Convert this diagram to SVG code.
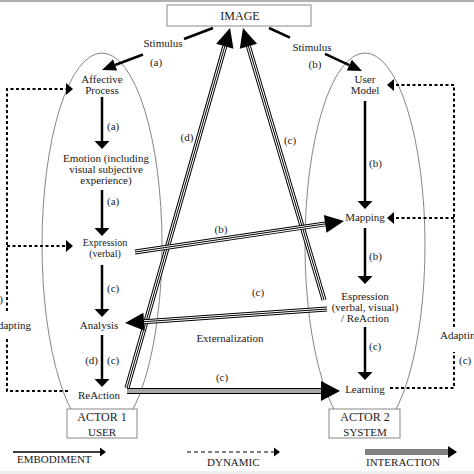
<svg xmlns="http://www.w3.org/2000/svg" width="474" height="474" viewBox="0 0 474 474">
<style>
text{font-family:"Liberation Serif","Times New Roman",serif;fill:#1a1a1a;font-size:11px}
.c{text-anchor:middle}
.e{text-anchor:end}
.box{fill:#fff;stroke:#888;stroke-width:1}
.ell{fill:none;stroke:#777;stroke-width:0.9}
.emb{stroke:#000;stroke-width:2.5;fill:none}
.dot{stroke:#000;stroke-width:2;stroke-dasharray:3 2.5;fill:none}
.ixo{stroke:#000;stroke-width:5;fill:none}
.ixi{stroke:#fff;stroke-width:3;fill:none}
.ixc{stroke:#000;stroke-width:1;fill:none}
.gxo{stroke:#000;stroke-width:6;fill:none}
.gxi{stroke:#a8a8a8;stroke-width:4;fill:none}
.sm{font-size:10px}
.big{font-size:12px}
.leg{stroke:#000;stroke-width:1.5;fill:none}
.legd{stroke:#000;stroke-width:1.2;stroke-dasharray:4 3;fill:none}
</style>
<defs>
<marker id="mi" markerUnits="userSpaceOnUse" markerWidth="20" markerHeight="20" viewBox="0 -10 20 20" refX="0" refY="0" orient="auto" overflow="visible"><path d="M0,-9 L19,0 L0,9 z" fill="#000"/></marker>
<marker id="mg" markerUnits="userSpaceOnUse" markerWidth="20" markerHeight="22" viewBox="0 -11 20 22" refX="0" refY="0" orient="auto" overflow="visible"><path d="M0,-10 L19,0 L0,10 z" fill="#000"/></marker>
<marker id="me" markerUnits="userSpaceOnUse" markerWidth="10" markerHeight="16" viewBox="0 -8 10 16" refX="0" refY="0" orient="auto" overflow="visible"><path d="M0,-7.5 L8,0 L0,7.5 z" fill="#000"/></marker>
<marker id="ms" markerUnits="userSpaceOnUse" markerWidth="15" markerHeight="14" viewBox="0 -7 15 14" refX="0" refY="0" orient="auto" overflow="visible"><path d="M0,-6 L14,0 L0,6 z" fill="#000"/></marker>
<marker id="md" markerUnits="userSpaceOnUse" markerWidth="8" markerHeight="14" viewBox="0 -7 8 14" refX="0" refY="0" orient="auto" overflow="visible"><path d="M0,-6 L7,0 L0,6 z" fill="#000"/></marker>
<marker id="ml" markerUnits="userSpaceOnUse" markerWidth="8" markerHeight="10" viewBox="0 -5 8 10" refX="0" refY="0" orient="auto" overflow="visible"><path d="M0,-4.5 L6,0 L0,4.5 z" fill="#000"/></marker>
<marker id="mli" markerUnits="userSpaceOnUse" markerWidth="10" markerHeight="14" viewBox="0 -7 10 14" refX="0" refY="0" orient="auto" overflow="visible"><path d="M0,-6 L9,0 L0,6 z" fill="#000"/></marker>
</defs>
<rect x="0" y="0" width="474" height="474" fill="#fff"/>
<rect x="0" y="0" width="474" height="2" fill="#b0b0b0"/>
<rect x="0" y="471" width="474" height="3" fill="#efefef"/>

<g id="actor-outlines">
<ellipse class="ell" cx="102" cy="245" rx="60" ry="192"/>
<ellipse class="ell" cx="365" cy="245" rx="60" ry="192"/>
</g>

<g id="connectors">
<!-- stimulus -->
<path class="emb" d="M213,28 L184,39"/>
<path class="emb" d="M143,54.5 L115.1,65" marker-end="url(#ms)"/>
<text x="156" y="66" class="c">(a)</text>
<path class="emb" d="M269,28 L290,37.7"/>
<path class="emb" d="M325,53.9 L349.3,65.1" marker-end="url(#ms)"/>
<text x="315" y="68" class="c">(b)</text>
<!-- embodiment left -->
<path class="emb" d="M102,97 L102,141" marker-end="url(#me)"/>
<text x="107" y="130">(a)</text>
<path class="emb" d="M102,190 L102,228" marker-end="url(#me)"/>
<text x="107" y="205">(a)</text>
<path class="emb" d="M102,265 L102,309" marker-end="url(#me)"/>
<text x="107" y="292">(c)</text>
<path class="emb" d="M102,335 L102,379" marker-end="url(#me)"/>
<text x="98" y="364" class="e">(d)</text>
<text x="107" y="364">(c)</text>
<!-- embodiment right -->
<path class="emb" d="M365,101 L365,201" marker-end="url(#me)"/>
<text x="369" y="167">(b)</text>
<path class="emb" d="M365,228 L365,276" marker-end="url(#me)"/>
<text x="369" y="260">(b)</text>
<path class="emb" d="M365,327 L365,372" marker-end="url(#me)"/>
<text x="369" y="350">(c)</text>
<!-- dynamic left -->
<path class="dot" d="M68,391 L7,391 L7,338"/>
<path class="dot" d="M7,311 L7,89 L66,89" marker-end="url(#md)"/>
<path class="dot" d="M7,246 L66,246" marker-end="url(#md)"/>
<text x="31" y="329" class="e">Adapting</text>
<text x="3" y="303" class="e">(c)</text>
<!-- dynamic right -->
<path class="dot" d="M390,388 L454,388 L454,352"/>
<path class="dot" d="M454,327 L454,85 L394,85" marker-end="url(#md)"/>
<path class="dot" d="M454,218 L394,218" marker-end="url(#md)"/>
<text x="440" y="339">Adapting</text>
<text x="459" y="364">(c)</text>
<!-- interaction (d) -->
<path class="ixo" d="M127,388 L224.8,46.3"/>
<path class="ixi" d="M127,388 L224.8,46.3"/>
<path class="ixc" d="M127,388 L224.8,46.3" marker-end="url(#mi)"/>
<text x="187" y="141" class="c">(d)</text>
<!-- interaction (c) to image -->
<path class="ixo" d="M324,300 L248.4,46.2"/>
<path class="ixi" d="M324,300 L248.4,46.2"/>
<path class="ixc" d="M324,300 L248.4,46.2" marker-end="url(#mi)"/>
<text x="290" y="144" class="c">(c)</text>
<!-- interaction (b) -->
<path class="ixo" d="M135,252 L325.2,223.9"/>
<path class="ixi" d="M135,252 L325.2,223.9"/>
<path class="ixc" d="M135,252 L325.2,223.9" marker-end="url(#mi)"/>
<text x="221" y="233" class="c">(b)</text>
<!-- interaction (c) externalization -->
<path class="ixo" d="M327,309 L144,321.7"/>
<path class="ixi" d="M327,309 L144,321.7"/>
<path class="ixc" d="M327,309 L144,321.7" marker-end="url(#mi)"/>
<text x="258" y="296" class="c">(c)</text>
<text x="230" y="342" class="c">Externalization</text>
<!-- interaction bottom -->
<path class="gxo" d="M127,391 L321,391"/>
<path class="gxi" d="M127,391 L321,391" marker-end="url(#mg)"/>
<text x="222" y="381" class="c">(c)</text>
</g>

<g id="image">
<rect class="box" x="167" y="5" width="144" height="21"/>
<text x="240" y="20" class="c big">IMAGE</text>
</g>
<g id="stimulus-labels">
<text x="163" y="47" class="c">Stimulus</text>
<text x="312" y="51" class="c">Stimulus</text>
</g>

<g id="affective-process">
<text x="102" y="83" class="c">Affective</text>
<text x="102" y="94" class="c">Process</text>
</g>
<g id="emotion">
<text x="106" y="162" class="c">Emotion (including</text>
<text x="106" y="173" class="c">visual subjective</text>
<text x="106" y="184" class="c">experience)</text>
</g>
<g id="expression">
<text x="105" y="246" class="c sm">Expression</text>
<text x="105" y="257" class="c sm">(verbal)</text>
</g>
<g id="analysis">
<text x="99" y="329" class="c">Analysis</text>
</g>
<g id="reaction">
<text x="99" y="399" class="c">ReAction</text>
</g>
<g id="actor1">
<rect class="box" x="67" y="409" width="70" height="29"/>
<text x="102" y="421" class="c big">ACTOR 1</text>
<text x="102" y="436" class="c">USER</text>
</g>

<g id="user-model">
<text x="365" y="83" class="c">User</text>
<text x="365" y="94" class="c">Model</text>
</g>
<g id="mapping">
<text x="365" y="221" class="c">Mapping</text>
</g>
<g id="espression">
<text x="365" y="300" class="c">Espression</text>
<text x="365" y="311" class="c">(verbal, visual)</text>
<text x="365" y="322" class="c">/ ReAction</text>
</g>
<g id="learning">
<text x="365" y="393" class="c">Learning</text>
</g>
<g id="actor2">
<rect class="box" x="329" y="409" width="71" height="29"/>
<text x="365" y="421" class="c big">ACTOR 2</text>
<text x="365" y="436" class="c">SYSTEM</text>
</g>

<g id="legend">
<path class="leg" d="M13,452 L100,452" marker-end="url(#ml)"/>
<text x="17" y="463">EMBODIMENT</text>
<path class="legd" d="M187,452 L274,452" marker-end="url(#ml)"/>
<text x="207" y="466">DYNAMIC</text>
<path class="ixo" d="M365,452 L448,452"/>
<path class="ixi" d="M365,452 L448,452"/>
<path class="ixc" d="M365,452 L448,452" marker-end="url(#mli)"/>
<text x="366" y="466">INTERACTION</text>
</g>
</svg>
